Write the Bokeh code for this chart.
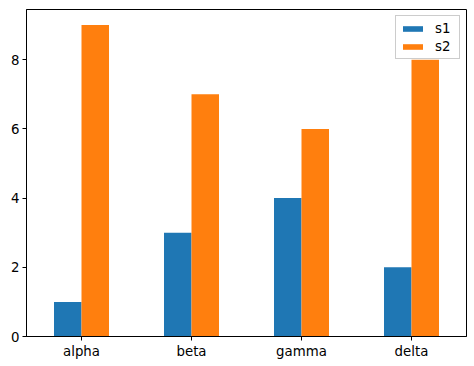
from bokeh.plotting import figure
from bokeh.models import ColumnDataSource, Range1d, FixedTicker, Legend, LegendItem
from bokeh.transform import dodge
from bokeh.embed import file_html
from bokeh.resources import INLINE

categories = ["alpha", "beta", "gamma", "delta"]
s1 = [1, 3, 4, 2]
s2 = [9, 7, 6, 8]
y_ticks = [0, 2, 4, 6, 8]

src = ColumnDataSource(dict(cat=categories, s1=s1, s2=s2))
ymax = max(max(s1), max(s2)) * 1.05

p = figure(x_range=categories, y_range=Range1d(0, ymax), width=474, height=366,
           output_backend="svg", toolbar_location=None,
           min_border_left=26, min_border_right=8, min_border_top=9, min_border_bottom=30)
p.x_range.range_padding = 0

r1 = p.vbar(x=dodge("cat", -0.125, range=p.x_range), top="s1", width=0.25, source=src,
            color="#1f77b4", line_color=None)
r2 = p.vbar(x=dodge("cat", 0.125, range=p.x_range), top="s2", width=0.25, source=src,
            color="#ff7f0e", line_color=None)

legend = Legend(items=[LegendItem(label="s1", renderers=[r1]), LegendItem(label="s2", renderers=[r2])],
                location="top_right", label_text_font="DejaVu Sans", label_text_font_size="10pt",
                label_text_color="#000000", border_line_color="#cccccc", border_line_alpha=1,
                background_fill_alpha=0.8, glyph_width=25, glyph_height=7, label_height=16,
                spacing=2, padding=4, margin=6, label_standoff=10)
p.add_layout(legend)

p.xgrid.visible = False
p.ygrid.visible = False
p.outline_line_color = "black"
p.outline_line_width = 1
p.outline_line_alpha = 1

p.yaxis.ticker = FixedTicker(ticks=y_ticks)
for ax in (p.xaxis[0], p.yaxis[0]):
    ax.axis_line_color = "black"
    ax.major_tick_line_color = "black"
    ax.major_tick_out = 4
    ax.major_tick_in = 0
    ax.minor_tick_line_color = None
    ax.major_label_text_font = "DejaVu Sans"
    ax.major_label_text_font_size = "10pt"
    ax.major_label_text_color = "#000000"
    ax.major_label_standoff = 3

open("out.html", "w").write(file_html(p, INLINE))
